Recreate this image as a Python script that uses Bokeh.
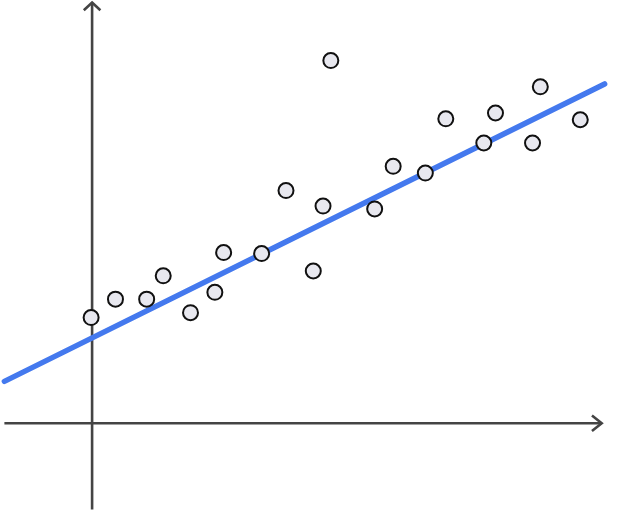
from bokeh.plotting import figure
from bokeh.models import Range1d
from bokeh.embed import file_html
from bokeh.resources import INLINE

# Data (arbitrary units; origin at axis crossing)
x_vals = [-0.1, 2.4, 5.6, 7.3, 10.1, 12.6, 13.5, 17.4, 19.9, 22.7, 23.7,
          24.5, 29.0, 30.9, 34.2, 36.3, 40.2, 41.4, 45.2, 46.0, 50.1]
y_vals = [10.9, 12.8, 12.8, 15.2, 11.4, 13.5, 17.6, 17.5, 24.0, 15.7, 22.4,
          37.4, 22.1, 26.5, 25.8, 31.4, 28.9, 32.0, 28.9, 34.7, 31.3]

fit_intercept = 8.8
fit_slope = 0.498
fit_x = [-9.0, 52.6]
fit_y = [fit_intercept + fit_slope * v for v in fit_x]

# Axis extents
x_axis_start, x_axis_end = -9.0, 52.3
y_axis_start, y_axis_end = -8.9, 43.4

p = figure(width=609, height=510, output_backend="svg", toolbar_location=None,
           x_range=Range1d(-9.4, 53.1), y_range=Range1d(-9.0, 43.6),
           min_border=0, outline_line_color=None)
p.axis.visible = False
p.grid.visible = False
p.background_fill_color = "white"
p.border_fill_color = "white"

axis_color = "#444444"
# axes
p.line([x_axis_start, x_axis_end], [0, 0], line_color=axis_color, line_width=2.6)
p.line([0, 0], [y_axis_start, y_axis_end], line_color=axis_color, line_width=2.6)
# arrowheads
p.line([x_axis_end - 1.0, x_axis_end, x_axis_end - 1.0], [0.8, 0, -0.8],
       line_color=axis_color, line_width=2.6, line_join="miter")
p.line([-0.85, 0, 0.85], [y_axis_end - 0.8, y_axis_end, y_axis_end - 0.8],
       line_color=axis_color, line_width=2.6, line_join="miter")

# regression line
p.line(fit_x, fit_y, line_color="#4479ee", line_width=5.5, line_cap="round")

# points
p.scatter(x_vals, y_vals, size=15, fill_color="#e8e8ef",
          line_color="#111111", line_width=2)

open("out.html", "w").write(file_html(p, INLINE))
